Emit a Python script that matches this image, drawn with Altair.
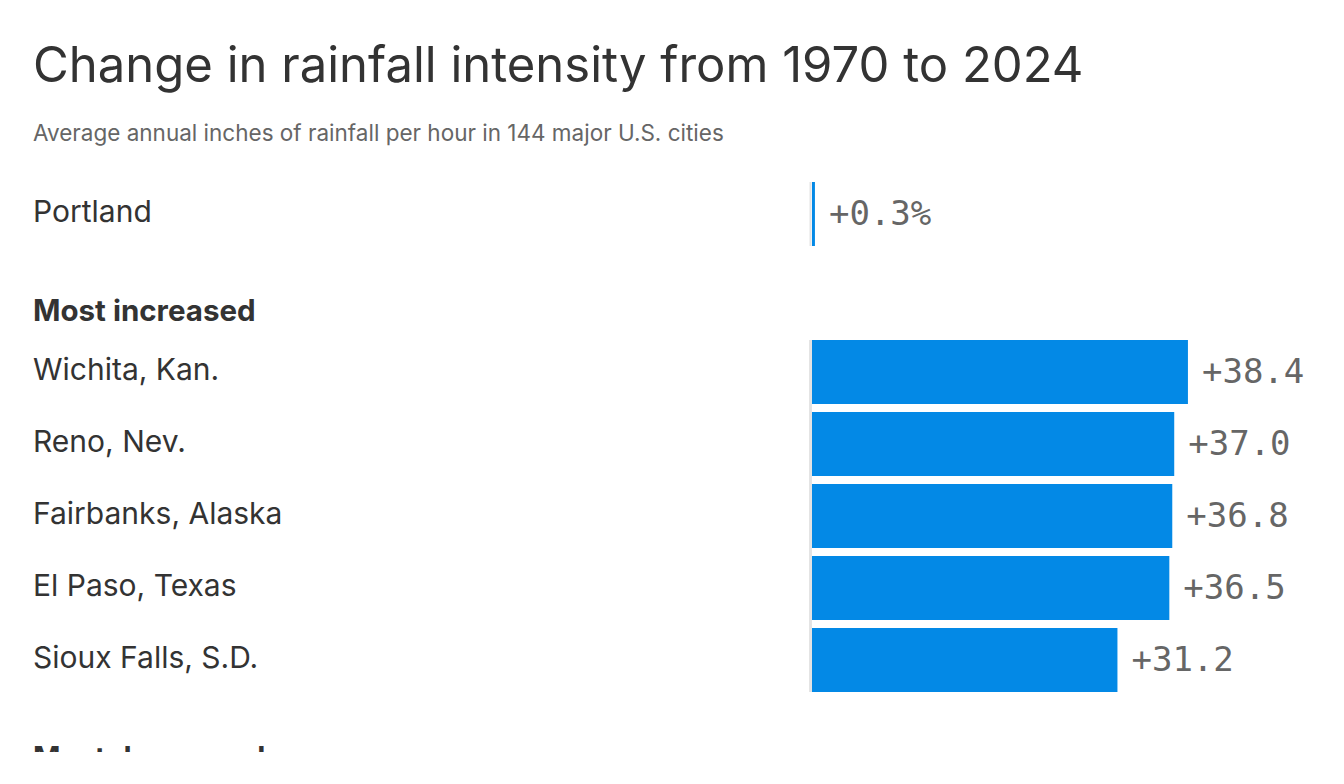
import altair as alt
import pandas as pd

# Reference city shown on its own row (percent change)
focus_city = ["Portland"]
focus_change = [0.3]

# Cities with the largest increase (percent change)
top_cities = ["Wichita, Kan.", "Reno, Nev.", "Fairbanks, Alaska", "El Paso, Texas", "Sioux Falls, S.D."]
top_changes = [38.4, 37.0, 36.8, 36.5, 31.2]

section_titles = ["Most increased", "Most decreased"]

BLUE = "#0389e6"
TEXT = "#333333"
MUTED = "#666666"
BASE = "#e3e3e3"
FONT = "Inter"
NUM_FONT = "DejaVu Sans Mono"
STEP = 72


def x_scale():
    # zero sits under the bars' left edge
    return alt.Scale(domain=[0, 40], range=[779, 779 + 9.79 * 40])


def band(domain):
    return alt.Scale(domain=domain, range=[0, STEP * len(domain)],
                     paddingInner=8 / STEP, paddingOuter=4 / STEP)


def rows(df, domain, height, title=None, tail=None):
    y = alt.Y("city:N", scale=band(domain), axis=None)
    base = alt.Chart(df)
    zero = base.mark_rule(color=BASE, strokeWidth=2, xOffset=-1.5).encode(
        x=alt.X("zero:Q", scale=x_scale(), axis=None),
        y=alt.value(4), y2=alt.value(STEP * len(df) - 4))
    bars = base.mark_bar(color=BLUE).encode(
        x=alt.X("change:Q", scale=x_scale(), axis=None), y=y)
    names = base.mark_text(align="left", baseline="middle", font=FONT,
                           fontSize=30, color=TEXT, dy=-1).encode(
        x=alt.value(0), y=y, text="city:N")
    values = base.mark_text(align="left", baseline="middle", font=NUM_FONT,
                            fontSize=34, color=MUTED, dx=14, dy=1).encode(
        x=alt.X("change:Q", scale=x_scale(), axis=None), y=y, text="label:N")
    layers = [zero, bars, names, values]
    if tail is not None:
        head = alt.Chart(pd.DataFrame({"city": [tail]})).mark_text(
            align="left", baseline="middle", font=FONT, fontSize=29.5,
            fontWeight="bold", color=TEXT, dy=27, clip=True).encode(
            x=alt.value(0), y=y, text="city:N")
        layers.append(head)
    props = dict(width=1306, height=height)
    if title is not None:
        props["title"] = alt.TitleParams(title, anchor="start", font=FONT,
                                         fontSize=29.5, fontWeight="bold",
                                         color=TEXT, offset=9)
    return alt.layer(*layers).properties(**props)


focus_df = pd.DataFrame({
    "city": focus_city,
    "change": focus_change,
    "zero": [0] * len(focus_city),
    "label": [f"+{v:.1f}%" for v in focus_change],
})
top_df = pd.DataFrame({
    "city": top_cities,
    "change": top_changes,
    "zero": [0] * len(top_cities),
    "label": [f"+{v:.1f}" for v in top_changes],
})

p1 = rows(focus_df, focus_city, STEP)
p2 = rows(top_df, top_cities + [section_titles[1]], STEP * 6 - 16,
          title=section_titles[0], tail=section_titles[1])

chart = alt.vconcat(p1, p2, spacing=46).resolve_scale(
    x="independent", y="independent"
).properties(
    title=alt.TitleParams(
        "Change in rainfall intensity from 1970 to 2024",
        subtitle="Average annual inches of rainfall per hour in 144 major U.S. cities",
        anchor="start", font=FONT, fontSize=49, fontWeight="normal", color=TEXT,
        subtitleFont=FONT, subtitleFontSize=22.5, subtitleColor=MUTED,
        subtitlePadding=31, offset=33),
    padding={"left": 33, "top": 42, "right": 0, "bottom": 0},
    background="white",
).configure_view(stroke=None)

chart.save("out.html", embed_options={"renderer": "svg", "actions": False})
